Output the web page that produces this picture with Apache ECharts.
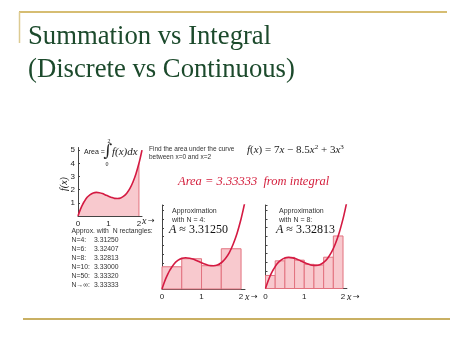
<!DOCTYPE html>
<html>
<head>
<meta charset="utf-8">
<script src="https://cdn.jsdelivr.net/npm/echarts@6/dist/echarts.min.js"></script>
<style>html,body{margin:0;padding:0;background:#fff;}#c{width:474px;height:355px;}</style>
</head>
<body>
<div id="c"></div>
<script>
// ---- data ----
const curveX = [0, 0.05, 0.1, 0.15, 0.2, 0.3, 0.4, 0.5, 0.6, 0.7, 0.8, 0.9, 1.0, 1.1, 1.2, 1.3, 1.4, 1.5, 1.6, 1.7, 1.8, 1.9, 2.0, 2.05, 2.1];
const curveY = [0, 0.33, 0.62, 0.87, 1.08, 1.42, 1.63, 1.75, 1.79, 1.76, 1.70, 1.60, 1.50, 1.41, 1.34, 1.33, 1.37, 1.50, 1.73, 2.07, 2.56, 3.19, 4.00, 4.48, 5.00];
const n4Left = [0, 0.5, 1.0, 1.5];
const n4Heights = [1.27, 1.73, 1.33, 2.30];
const n8Left = [0, 0.25, 0.5, 0.75, 1.0, 1.25, 1.5, 1.75];
const n8Heights = [0.75, 1.59, 1.79, 1.63, 1.39, 1.35, 1.80, 3.02];
const approxN = ['N=4:', 'N=6:', 'N=8:', 'N=10:', 'N=50:', 'N\u2192\u221e:'];
const approxA = ['3.31250', '3.32407', '3.32813', '3.33000', '3.33320', '3.33333'];
const xTickLabels = ['0', '1', '2'];
const yTickLabels = ['1', '2', '3', '4', '5'];

const curve = curveX.map((x, i) => [x, curveY[i]]);
const areaPart = curve.filter(p => p[0] <= 2);
const bars4 = n4Left.map((x, i) => [x, x + 0.5, n4Heights[i]]);
const bars8 = n8Left.map((x, i) => [x, x + 0.25, n8Heights[i]]);

const RED = '#d41a42';
const PINK = '#f8c9ce';
const PINKLINE = '#e2727f';
const AX = '#444';
const SANS = 'Liberation Sans';

function rectItem(params, api) {
  const p0 = api.coord([api.value(0), 0]);
  const p1 = api.coord([api.value(1), api.value(2)]);
  return {
    type: 'rect',
    shape: { x: p0[0], y: p1[1], width: p1[0] - p0[0], height: p0[1] - p1[1] },
    style: { fill: PINK, stroke: PINKLINE, lineWidth: 1 }
  };
}

function xAx(gi) {
  return {
    type: 'value', gridIndex: gi, min: 0, max: 2.1, interval: 1,
    axisLine: { lineStyle: { color: AX, width: 1 } },
    axisTick: { show: false },
    splitLine: { show: false },
    axisLabel: {
      show: true, showMaxLabel: false, margin: 4,
      fontSize: 8, color: '#222', fontFamily: SANS,
      formatter: v => xTickLabels[Math.round(v)] !== undefined ? xTickLabels[Math.round(v)] : ''
    }
  };
}

function yAxSmall(gi) {
  return {
    type: 'value', gridIndex: gi, min: 0, max: 4.8, interval: 0.5,
    axisLine: { show: true, lineStyle: { color: AX } },
    axisTick: { show: true, inside: true, length: 2, lineStyle: { color: AX } },
    splitLine: { show: false }, axisLabel: { show: false }
  };
}

const option = {
  animation: false,
  backgroundColor: '#fff',
  grid: [
    { left: 78, top: 147.5, width: 64, height: 68.5 },
    { left: 162, top: 205, width: 83, height: 84 },
    { left: 265.5, top: 205, width: 81.4, height: 83.5 }
  ],
  xAxis: [xAx(0), xAx(1), xAx(2)],
  yAxis: [
    {
      type: 'value', gridIndex: 0, min: 0, max: 5.2, interval: 1,
      axisLine: { show: true, lineStyle: { color: AX } },
      axisTick: { show: true, inside: true, length: 2, lineStyle: { color: AX } },
      splitLine: { show: false },
      axisLabel: { showMinLabel: false, showMaxLabel: false, margin: 3, fontSize: 8, color: '#222', fontFamily: SANS,
        formatter: v => yTickLabels[Math.round(v) - 1] || '' }
    },
    yAxSmall(1),
    yAxSmall(2)
  ],
  series: [
    { type: 'line', xAxisIndex: 0, yAxisIndex: 0, data: areaPart, smooth: 0.3, symbol: 'none',
      lineStyle: { width: 0 }, areaStyle: { color: PINK, opacity: 1 }, z: 1 },
    { type: 'line', xAxisIndex: 0, yAxisIndex: 0, data: [[2, 0], [2, 4]], symbol: 'none',
      lineStyle: { width: 1, color: PINKLINE }, z: 2 },
    { type: 'line', xAxisIndex: 0, yAxisIndex: 0, data: curve, smooth: 0.3, symbol: 'none',
      lineStyle: { width: 1.6, color: RED }, z: 3 },

    { type: 'custom', xAxisIndex: 1, yAxisIndex: 1, data: bars4, renderItem: rectItem,
      encode: { x: [0, 1], y: 2 }, z: 1 },
    { type: 'line', xAxisIndex: 1, yAxisIndex: 1, data: curve, smooth: 0.3, symbol: 'none',
      lineStyle: { width: 1.6, color: RED }, z: 3 },

    { type: 'custom', xAxisIndex: 2, yAxisIndex: 2, data: bars8, renderItem: rectItem,
      encode: { x: [0, 1], y: 2 }, z: 1 },
    { type: 'line', xAxisIndex: 2, yAxisIndex: 2, data: curve, smooth: 0.3, symbol: 'none',
      lineStyle: { width: 1.6, color: RED }, z: 3 }
  ],
  graphic: [
    // slide decorations
    { type: 'line', shape: { x1: 19, y1: 12, x2: 447, y2: 12 }, style: { stroke: '#d6bd72', lineWidth: 2 } },
    { type: 'line', shape: { x1: 19.5, y1: 12, x2: 19.5, y2: 43 }, style: { stroke: '#dccb92', lineWidth: 1.5 } },
    { type: 'line', shape: { x1: 23, y1: 319, x2: 450, y2: 319 }, style: { stroke: '#c9b063', lineWidth: 2 } },
    // title
    { type: 'text', left: 28, top: 23, style: { text: 'Summation vs Integral', font: '26.7px "Liberation Serif"', fill: '#1c4a2c' } },
    { type: 'text', left: 28, top: 56, style: { text: '(Discrete vs Continuous)', font: '26.7px "Liberation Serif"', fill: '#1c4a2c' } },

    // panel 1 annotations
    { type: 'text', x: 64, y: 184, rotation: Math.PI / 2, style: { text: 'f(x)', font: 'italic 10px "Liberation Serif"', fill: '#222', align: 'center', verticalAlign: 'middle' } },
    { type: 'text', x: 84, y: 152, style: { text: 'Area =', font: '7px "Liberation Sans"', fill: '#222', verticalAlign: 'middle' } },
    { type: 'text', x: 108, y: 152, style: { text: '\u222b', font: '17px "DejaVu Serif"', fill: '#222', align: 'center', verticalAlign: 'middle' } },
    { type: 'text', x: 109, y: 141, style: { text: '2', font: '6px "Liberation Serif"', fill: '#222', align: 'center', verticalAlign: 'middle' } },
    { type: 'text', x: 107, y: 164, style: { text: '0', font: '6px "Liberation Serif"', fill: '#222', align: 'center', verticalAlign: 'middle' } },
    { type: 'text', x: 112, y: 152, style: { text: 'f(x)dx', font: 'italic 11px "Liberation Serif"', fill: '#222', verticalAlign: 'middle' } },
    { type: 'text', x: 142, y: 221, style: { text: 'x', font: 'italic 10px "Liberation Serif"', fill: '#222', verticalAlign: 'middle' } },
    { type: 'text', x: 148, y: 221, style: { text: '\u2192', font: '8px "DejaVu Sans"', fill: '#222', verticalAlign: 'middle' } },

    // statement
    { type: 'text', x: 149, y: 149.5, style: { text: 'Find the area under the curve', font: '6.5px "Liberation Sans"', fill: '#333', verticalAlign: 'middle' } },
    { type: 'text', x: 149, y: 157.5, style: { text: 'between x=0 and x=2', font: '6.5px "Liberation Sans"', fill: '#333', verticalAlign: 'middle' } },
    { type: 'text', x: 247, y: 150, style: { rich: {
        i: { font: 'italic 11px "Liberation Serif"', fill: '#222' },
        n: { font: '11px "Liberation Serif"', fill: '#222' },
        s: { font: '7px "Liberation Serif"', fill: '#222', verticalAlign: 'top', padding: [0, 0, 6, 0] }
      }, text: '{i|f}{n|(}{i|x}{n|) = 7}{i|x}{n| \u2212 8.5}{i|x}{s|2}{n| + 3}{i|x}{s|3}', verticalAlign: 'middle' } },
    { type: 'text', x: 178, y: 182, style: { text: 'Area = 3.33333  from integral', font: 'italic 12.5px "Liberation Serif"', fill: '#d41f3d', verticalAlign: 'middle' } },

    // approximation table
    { type: 'text', x: 71.5, y: 231, style: { text: 'Approx. with  N rectangles:', font: '6.8px "Liberation Sans"', fill: '#333', verticalAlign: 'middle' } },
    ...approxN.map((t, i) => ({ type: 'text', x: 71.5, y: 240 + i * 9.1, style: { text: t, font: '6.8px "Liberation Sans"', fill: '#333', verticalAlign: 'middle' } })),
    ...approxA.map((t, i) => ({ type: 'text', x: 94, y: 240 + i * 9.1, style: { text: t, font: '6.8px "Liberation Sans"', fill: '#333', verticalAlign: 'middle' } })),

    // panel 2
    { type: 'text', x: 172, y: 211.5, style: { text: 'Approximation', font: '7px "Liberation Sans"', fill: '#333', verticalAlign: 'middle' } },
    { type: 'text', x: 172, y: 220, style: { text: 'with N = 4:', font: '7px "Liberation Sans"', fill: '#333', verticalAlign: 'middle' } },
    { type: 'text', x: 169, y: 230, style: { rich: { i: { font: 'italic 12px "Liberation Serif"', fill: '#111' }, n: { font: '12px "Liberation Serif"', fill: '#111' } }, text: '{i|A}{n| \u2248 3.31250}', verticalAlign: 'middle' } },
    { type: 'text', x: 245, y: 297, style: { text: 'x', font: 'italic 10px "Liberation Serif"', fill: '#222', verticalAlign: 'middle' } },
    { type: 'text', x: 251, y: 297, style: { text: '\u2192', font: '8px "DejaVu Sans"', fill: '#222', verticalAlign: 'middle' } },

    // panel 3
    { type: 'text', x: 279, y: 211.5, style: { text: 'Approximation', font: '7px "Liberation Sans"', fill: '#333', verticalAlign: 'middle' } },
    { type: 'text', x: 279, y: 220, style: { text: 'with N = 8:', font: '7px "Liberation Sans"', fill: '#333', verticalAlign: 'middle' } },
    { type: 'text', x: 276, y: 230, style: { rich: { i: { font: 'italic 12px "Liberation Serif"', fill: '#111' }, n: { font: '12px "Liberation Serif"', fill: '#111' } }, text: '{i|A}{n| \u2248 3.32813}', verticalAlign: 'middle' } },
    { type: 'text', x: 347, y: 297, style: { text: 'x', font: 'italic 10px "Liberation Serif"', fill: '#222', verticalAlign: 'middle' } },
    { type: 'text', x: 353, y: 297, style: { text: '\u2192', font: '8px "DejaVu Sans"', fill: '#222', verticalAlign: 'middle' } }
  ]
};

const chart = echarts.init(document.getElementById('c'), null, { renderer: 'canvas' });
chart.setOption(option);
</script>
</body>
</html>
